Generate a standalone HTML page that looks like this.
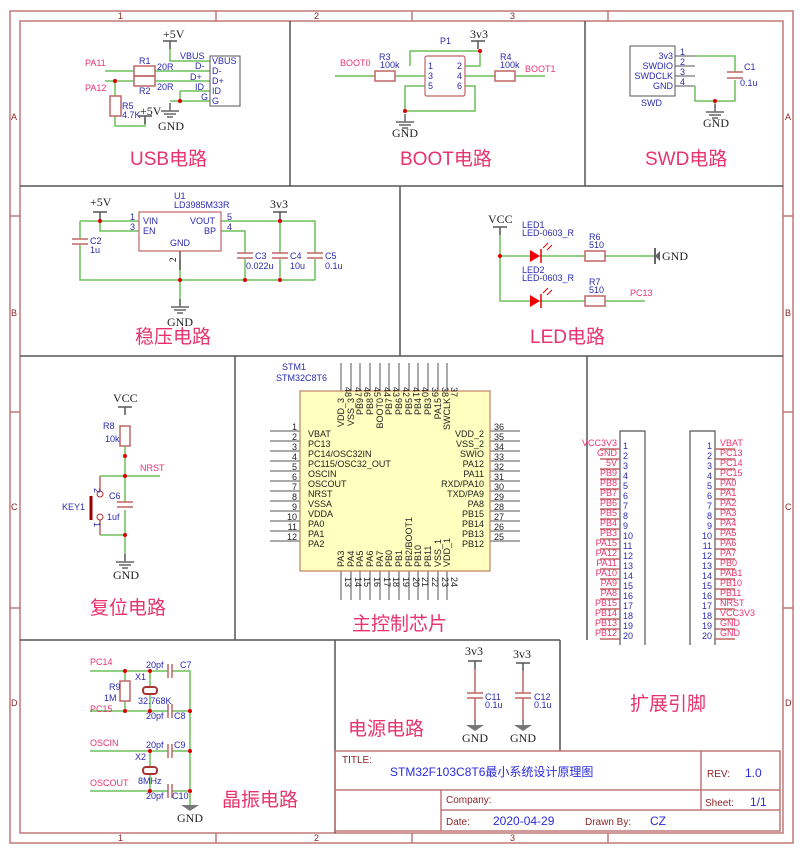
<!DOCTYPE html>
<html><head><meta charset="utf-8"><style>
html,body{margin:0;padding:0;background:#fff}
svg{display:block}
text{font-family:"Liberation Sans","Noto Sans CJK SC",sans-serif}
.s{font-family:"Liberation Serif",serif}
.b{fill:#2a2ab0;font-size:9px}
.p{fill:#e8336d;font-size:9px}
.k{fill:#222;font-size:12px}
.t{fill:#e8336d;font-size:19px}
.w{stroke:#6cbf5c;stroke-width:1.5;fill:none}
.c{stroke:#c06565;stroke-width:1.5;fill:none}
.g{stroke:#555;stroke-width:1.5;fill:none}
.sec{stroke:#555;stroke-width:1.5;fill:none}
.fr{stroke:#c07878;stroke-width:1.5;fill:none}
.j{fill:#d00}
.pin{stroke:#555;stroke-width:1}
.pn{font-family:"Liberation Serif",serif;font-size:9px;fill:#222}
.m{fill:#8b2525;font-size:10px}
</style></head><body>
<svg width="800" height="852" viewBox="0 0 800 852" xmlns="http://www.w3.org/2000/svg">
<defs>
<g id="gnd"><path d="M0,-8V0M-9,0H9M-6,3H6M-3,6H3" stroke="#666" stroke-width="1.5" fill="none"/></g>
<g id="pwr"><path d="M-7,0H7M0,0V8" stroke="#555" stroke-width="1.5" fill="none"/></g>
</defs>
<!-- frame -->
<rect x="10" y="11" width="783" height="832" class="fr"/>
<rect x="20" y="21" width="763" height="812" class="fr"/>
<path class="fr" d="M216,11V21M412,11V21M608,11V21M216,833V843M412,833V843M608,833V843M10,216H20M10,412H20M10,608H20M783,216H793M783,412H793M783,608H793"/>
<g fill="#8b2525" font-size="9">
<text x="118" y="19">1</text><text x="314" y="19">2</text><text x="510" y="19">3</text>
<text x="118" y="841">1</text><text x="314" y="841">2</text><text x="510" y="841">3</text>
<text x="11" y="120">A</text><text x="11" y="316">B</text><text x="11" y="510">C</text><text x="11" y="706">D</text>
<text x="785" y="120">A</text><text x="785" y="316">B</text><text x="785" y="510">C</text><text x="785" y="706">D</text>
</g>
<!-- sections -->
<path class="sec" d="M20,186H783M290,21V186M585,21V186M20,356H783M400,186V356M235,356V640M587,356V640M20,640H560M335,640V833M560,640V751"/>
<!-- title block -->
<g class="fr" stroke="#b86565"><rect x="335" y="751" width="445" height="80"/><path d="M335,790H780M441,790V831M441,810H780M701,751V810"/></g>
<text x="342" y="763" class="m">TITLE:</text>
<text x="390" y="776" fill="#2a2ae0" font-size="12">STM32F103C8T6最小系统设计原理图</text>
<text x="707" y="777" class="m" font-size="11">REV:</text><text x="745" y="777" fill="#2a2ae0" font-size="12">1.0</text>
<text x="446" y="803" class="m" font-size="11">Company:</text>
<text x="705" y="806" class="m" font-size="11">Sheet:</text><text x="750" y="806" fill="#2a2ae0" font-size="12">1/1</text>
<text x="446" y="825" class="m" font-size="11">Date:</text><text x="493" y="825" fill="#2a2ae0" font-size="12">2020-04-29</text>
<text x="585" y="825" class="m" font-size="11">Drawn By:</text><text x="650" y="825" fill="#2a2ae0" font-size="12">CZ</text>

<!-- USB -->
<text x="163" y="38" class="s k">+5V</text>
<use href="#pwr" x="170" y="41"/>
<path class="w" d="M170,49V61H210M105,71H134M155,71H210M105,81H134M155,81H210M180,91H210M180,91V101H210M170,101H180M115,81V96M115,116V126H145V118"/>
<rect x="210" y="56" width="30" height="50" fill="#fff" stroke="#555" stroke-width="1"/>
<rect x="134" y="66" width="21" height="10" class="c"/><rect x="134" y="76" width="21" height="10" class="c"/>
<rect x="110" y="96" width="11" height="20" class="c"/>
<use href="#pwr" x="145" y="116" transform="translate(0,0)"/>
<use href="#gnd" x="170" y="111"/>
<circle cx="115" cy="81" r="2" class="j"/><circle cx="180" cy="101" r="2" class="j"/>
<g class="b"><text x="212" y="64">VBUS</text><text x="212" y="74">D-</text><text x="212" y="84">D+</text><text x="212" y="94">ID</text><text x="212" y="104">G</text>
<text x="180" y="59">VBUS</text><text x="195" y="69">D-</text><text x="190" y="80">D+</text><text x="195" y="90">ID</text><text x="201" y="100">G</text>
<text x="139" y="64">R1</text><text x="139" y="94">R2</text><text x="157" y="70">20R</text><text x="157" y="90">20R</text><text x="122" y="109">R5</text><text x="122" y="118">4.7K</text></g>
<text x="140" y="115" class="s k">+5V</text>
<text x="85" y="66" class="p">PA11</text><text x="85" y="91" class="p">PA12</text>
<text x="158" y="130" class="s k">GND</text>
<text x="130" y="165" class="t">USB电路</text>

<!-- BOOT -->
<text x="340" y="66" class="p">BOOT0</text>
<path class="w" d="M335,76H375M395,76H425M410,66V51H480M480,51V66H465M465,76H495M515,76H545M425,86H405V111M465,86H475V111H405"/>
<rect x="375" y="71" width="20" height="10" class="c"/><rect x="495" y="71" width="20" height="10" class="c"/>
<rect x="425" y="56" width="40" height="40" rx="2" fill="#fff" stroke="#c06565" stroke-width="1.2"/>
<text x="470" y="38" class="s k">3v3</text><use href="#pwr" x="478" y="41"/>
<circle cx="480" cy="51" r="2" class="j"/><circle cx="405" cy="111" r="2" class="j"/>
<use href="#gnd" x="405" y="122"/>
<text x="392" y="137" class="s k">GND</text>
<g class="b"><text x="440" y="44">P1</text><text x="379" y="60">R3</text><text x="380" y="68">100k</text><text x="500" y="60">R4</text><text x="500" y="68">100k</text>
<text x="428" y="69">1</text><text x="428" y="79">3</text><text x="428" y="89">5</text><text x="457" y="69">2</text><text x="457" y="79">4</text><text x="457" y="89">6</text></g>
<text x="525" y="72" class="p">BOOT1</text>
<text x="400" y="165" class="t">BOOT电路</text>

<!-- SWD -->
<rect x="630" y="46" width="45" height="50" fill="#fff" stroke="#555" stroke-width="1"/>
<path class="pin" d="M675,56H695M675,66H695M675,76H695M675,86H695"/>
<path class="w" d="M695,56H735V72M735,80V101H695V86M715,101V108"/>
<path class="c" d="M727,72H743M727,78H743"/>
<circle cx="715" cy="101" r="2" class="j"/>
<use href="#gnd" x="715" y="112"/>
<text x="703" y="127" class="s k">GND</text>
<g class="b" text-anchor="end"><text x="673" y="59">3v3</text><text x="673" y="69">SWDIO</text><text x="673" y="79">SWDCLK</text><text x="673" y="89">GND</text></g>
<g class="b"><text x="680" y="55">1</text><text x="680" y="65">2</text><text x="680" y="75">3</text><text x="680" y="85">4</text>
<text x="641" y="106">SWD</text><text x="744" y="70">C1</text><text x="740" y="86">0.1u</text></g>
<text x="645" y="165" class="t">SWD电路</text>

<!-- Regulator -->
<text x="90" y="206" class="s k">+5V</text><use href="#pwr" x="100" y="212"/>
<path class="w" d="M80,221H140M100,221V231H140M80,221V239M80,245V280H315M220,221H315V253M220,231H245V253M280,221V253M245,259V280M280,259V280M315,259V280M180,260V305"/>
<path class="g" d="M180,251V270"/>
<path class="c" d="M72,239H88M72,244H88M237,253H253M237,258H253M272,253H288M272,258H288M307,253H323M307,258H323"/>
<rect x="139" y="212" width="82" height="39" fill="#fff" stroke="#c06565" stroke-width="1.2"/>
<text x="270" y="208" class="s k">3v3</text><use href="#pwr" x="280" y="212"/>
<circle cx="100" cy="221" r="2" class="j"/><circle cx="280" cy="221" r="2" class="j"/><circle cx="180" cy="280" r="2" class="j"/><circle cx="245" cy="280" r="2" class="j"/><circle cx="280" cy="280" r="2" class="j"/>
<use href="#gnd" x="180" y="307"/>
<text x="167" y="326" class="s k">GND</text>
<g class="b"><text x="174" y="199">U1</text><text x="174" y="208">LD3985M33R</text><text x="143" y="224">VIN</text><text x="143" y="234">EN</text><text x="170" y="246">GND</text><text x="190" y="224">VOUT</text><text x="204" y="234">BP</text>
<text x="130" y="220">1</text><text x="130" y="230">3</text><text x="227" y="220">5</text><text x="227" y="230">4</text>
<text x="90" y="244">C2</text><text x="90" y="253">1u</text><text x="255" y="259">C3</text><text x="246" y="269">0.022u</text><text x="290" y="259">C4</text><text x="290" y="269">10u</text><text x="325" y="259">C5</text><text x="325" y="269">0.1u</text></g>
<text x="176" y="262" transform="rotate(-90 176 262)" font-size="9" class="s">2</text>
<text x="135" y="343" class="t">稳压电路</text>

<!-- LED -->
<text x="488" y="223" class="s k">VCC</text><use href="#pwr" x="500" y="227"/>
<path class="w" d="M500,235V301H530M500,256H530M540,256H585M605,256H655M540,301H585M605,301H645"/>
<path d="M530,250L540,256L530,262Z M530,295L540,301L530,307Z" fill="#e00"/>
<path d="M541,249V263M541,294V308" stroke="#e00" stroke-width="1.5"/>
<path d="M543,248L548,243M547,250L552,245M543,293L548,288M547,295L552,290" stroke="#e00" stroke-width="1"/>
<rect x="585" y="251" width="20" height="10" class="c"/><rect x="585" y="296" width="20" height="10" class="c"/>
<path d="M655,248V264" stroke="#666" stroke-width="2"/><path d="M655,256L660,251V261Z" fill="#666"/>
<circle cx="500" cy="256" r="2" class="j"/>
<text x="662" y="260" class="s k">GND</text>
<g class="b"><text x="522" y="228">LED1</text><text x="522" y="236">LED-0603_R</text><text x="589" y="240">R6</text><text x="589" y="248">510</text>
<text x="522" y="273">LED2</text><text x="522" y="281">LED-0603_R</text><text x="589" y="285">R7</text><text x="589" y="293">510</text></g>
<text x="630" y="296" class="p">PC13</text>
<text x="530" y="343" class="t">LED电路</text>

<!-- Reset -->
<text x="113" y="402" class="s k">VCC</text><use href="#pwr" x="125" y="407"/>
<rect x="120" y="426" width="10" height="20" class="c"/>
<path class="w" d="M125,446V476M100,476H160M125,476V502M125,510V560M100,535H125"/>
<path class="c" d="M100,476V491M100,520V535M117,502H133M117,507H133"/>
<circle cx="100" cy="494" r="3" fill="#fff" stroke="#a33" stroke-width="1"/><circle cx="100" cy="517" r="3" fill="#fff" stroke="#a33" stroke-width="1"/>
<path d="M91,496V520" stroke="#900" stroke-width="3"/>
<circle cx="125" cy="456" r="2" class="j"/><circle cx="125" cy="476" r="2" class="j"/><circle cx="125" cy="535" r="2" class="j"/>
<use href="#gnd" x="125" y="562"/>
<text x="113" y="579" class="s k">GND</text>
<g class="b"><text x="103" y="429">R8</text><text x="105" y="442">10k</text><text x="62" y="510">KEY1</text><text x="109" y="499">C6</text><text x="107" y="520">1uf</text>
<text x="94" y="488" transform="rotate(90 94 488)">2</text><text x="94" y="522" transform="rotate(90 94 522)">1</text></g>
<text x="140" y="471" class="p">NRST</text>
<text x="90" y="614" class="t">复位电路</text>

<!-- MCU -->
<text x="282" y="370" class="b">STM1</text><text x="276" y="381" class="b">STM32C8T6</text>
<g class="pin">
<path d="M270,431H300M270,441H300M270,451H300M270,461H300M270,471H300M270,481H300M270,491H300M270,501H300M270,511H300M270,521H300M270,531H300M270,541H300"/>
<path d="M490,431H520M490,441H520M490,451H520M490,461H520M490,471H520M490,481H520M490,491H520M490,501H520M490,511H520M490,521H520M490,531H520M490,541H520"/>
<path d="M341,363V391M351,363V391M360,363V391M370,363V391M380,363V391M389,363V391M399,363V391M409,363V391M418,363V391M428,363V391M438,363V391M447,363V391"/>
<path d="M341,571V600M351,571V600M360,571V600M370,571V600M380,571V600M389,571V600M399,571V600M409,571V600M418,571V600M428,571V600M438,571V600M447,571V600"/>
</g>
<rect x="300" y="391" width="190" height="180" fill="#ffffbf" stroke="#c08060" stroke-width="1.2"/>
<g class="pn" text-anchor="end">
<text x="297" y="430">1</text><text x="297" y="440">2</text><text x="297" y="450">3</text><text x="297" y="460">4</text><text x="297" y="470">5</text><text x="297" y="480">6</text><text x="297" y="490">7</text><text x="297" y="500">8</text><text x="297" y="510">9</text><text x="297" y="520">10</text><text x="297" y="530">11</text><text x="297" y="540">12</text>
<text x="484" y="437">VDD_2</text><text x="484" y="447">VSS_2</text><text x="484" y="457">SWIO</text><text x="484" y="467">PA12</text><text x="484" y="477">PA11</text><text x="484" y="487">RXD/PA10</text><text x="484" y="497">TXD/PA9</text><text x="484" y="507">PA8</text><text x="484" y="517">PB15</text><text x="484" y="527">PB14</text><text x="484" y="537">PB13</text><text x="484" y="547">PB12</text>
</g>
<g class="pn">
<text x="308" y="437">VBAT</text><text x="308" y="447">PC13</text><text x="308" y="457">PC14/OSC32IN</text><text x="308" y="467">PC115/OSC32_OUT</text><text x="308" y="477">OSCIN</text><text x="308" y="487">OSCOUT</text><text x="308" y="497">NRST</text><text x="308" y="507">VSSA</text><text x="308" y="517">VDDA</text><text x="308" y="527">PA0</text><text x="308" y="537">PA1</text><text x="308" y="547">PA2</text>
<text x="494" y="430">36</text><text x="494" y="440">35</text><text x="494" y="450">34</text><text x="494" y="460">33</text><text x="494" y="470">32</text><text x="494" y="480">31</text><text x="494" y="490">30</text><text x="494" y="500">29</text><text x="494" y="510">28</text><text x="494" y="520">27</text><text x="494" y="530">26</text><text x="494" y="540">25</text>
</g>
<g class="pn" font-size="8">
<text transform="translate(345,387) rotate(90)">48</text><text transform="translate(355,387) rotate(90)">47</text><text transform="translate(364,387) rotate(90)">46</text><text transform="translate(374,387) rotate(90)">45</text><text transform="translate(384,387) rotate(90)">44</text><text transform="translate(393,387) rotate(90)">43</text><text transform="translate(403,387) rotate(90)">42</text><text transform="translate(413,387) rotate(90)">41</text><text transform="translate(422,387) rotate(90)">40</text><text transform="translate(432,387) rotate(90)">39</text><text transform="translate(442,387) rotate(90)">38</text><text transform="translate(451,387) rotate(90)">37</text>
<text transform="translate(345,577) rotate(90)">13</text><text transform="translate(355,577) rotate(90)">14</text><text transform="translate(364,577) rotate(90)">15</text><text transform="translate(374,577) rotate(90)">16</text><text transform="translate(384,577) rotate(90)">17</text><text transform="translate(393,577) rotate(90)">18</text><text transform="translate(403,577) rotate(90)">19</text><text transform="translate(413,577) rotate(90)">20</text><text transform="translate(422,577) rotate(90)">21</text><text transform="translate(432,577) rotate(90)">22</text><text transform="translate(442,577) rotate(90)">23</text><text transform="translate(451,577) rotate(90)">24</text>
</g>
<g class="pn" text-anchor="end">
<text transform="translate(344,398) rotate(-90)">VDD_3</text><text transform="translate(354,398) rotate(-90)">VSS_3</text><text transform="translate(363,398) rotate(-90)">PB9</text><text transform="translate(373,398) rotate(-90)">PB8</text><text transform="translate(383,398) rotate(-90)">BOOT0</text><text transform="translate(392,398) rotate(-90)">PB7</text><text transform="translate(402,398) rotate(-90)">PB6</text><text transform="translate(412,398) rotate(-90)">PB5</text><text transform="translate(421,398) rotate(-90)">PB4</text><text transform="translate(431,398) rotate(-90)">PB3</text><text transform="translate(441,398) rotate(-90)">PA15</text><text transform="translate(450,398) rotate(-90)">SWCLK</text>
</g>
<g class="pn">
<text transform="translate(344,567) rotate(-90)">PA3</text><text transform="translate(354,567) rotate(-90)">PA4</text><text transform="translate(363,567) rotate(-90)">PA5</text><text transform="translate(373,567) rotate(-90)">PA6</text><text transform="translate(383,567) rotate(-90)">PA7</text><text transform="translate(392,567) rotate(-90)">PB0</text><text transform="translate(402,567) rotate(-90)">PB1</text><text transform="translate(412,567) rotate(-90)">PB2/BOOT1</text><text transform="translate(421,567) rotate(-90)">PB10</text><text transform="translate(431,567) rotate(-90)">PB11</text><text transform="translate(441,567) rotate(-90)">VSS_1</text><text transform="translate(450,567) rotate(-90)">VDD_1</text>
</g>
<text x="352" y="630" class="t" font-size="18">主控制芯片</text>

<!-- Expansion -->
<path d="M620,645V431H645V645M690,645V431H715V645" stroke="#555" stroke-width="1.2" fill="none"/>
<g class="c" stroke-width="1.2">
<path d="M600,449H620M600,459H620M600,469H620M600,479H620M600,489H620M600,499H620M600,509H620M600,519H620M600,529H620M600,539H620M600,549H620M600,559H620M600,569H620M600,579H620M600,589H620M600,599H620M600,609H620M600,619H620M600,629H620M600,639H620"/>
<path d="M715,449H735M715,459H735M715,469H735M715,479H735M715,489H735M715,499H735M715,509H735M715,519H735M715,529H735M715,539H735M715,549H735M715,559H735M715,569H735M715,579H735M715,589H735M715,599H735M715,609H735M715,619H735M715,629H735M715,639H735"/>
</g>
<g class="p" text-anchor="end" font-size="9.5">
<text x="617" y="446">VCC3V3</text><text x="617" y="456">GND</text><text x="617" y="466">5V</text><text x="617" y="476">PB9</text><text x="617" y="486">PB8</text><text x="617" y="496">PB7</text><text x="617" y="506">PB6</text><text x="617" y="516">PB5</text><text x="617" y="526">PB4</text><text x="617" y="536">PB3</text><text x="617" y="546">PA15</text><text x="617" y="556">PA12</text><text x="617" y="566">PA11</text><text x="617" y="576">PA10</text><text x="617" y="586">PA9</text><text x="617" y="596">PA8</text><text x="617" y="606">PB15</text><text x="617" y="616">PB14</text><text x="617" y="626">PB13</text><text x="617" y="636">PB12</text>
</g>
<g class="p" font-size="9.5">
<text x="720" y="446">VBAT</text><text x="720" y="456">PC13</text><text x="720" y="466">PC14</text><text x="720" y="476">PC15</text><text x="720" y="486">PA0</text><text x="720" y="496">PA1</text><text x="720" y="506">PA2</text><text x="720" y="516">PA3</text><text x="720" y="526">PA4</text><text x="720" y="536">PA5</text><text x="720" y="546">PA6</text><text x="720" y="556">PA7</text><text x="720" y="566">PB0</text><text x="720" y="576">PAB1</text><text x="720" y="586">PB10</text><text x="720" y="596">PB11</text><text x="720" y="606">NRST</text><text x="720" y="616">VCC3V3</text><text x="720" y="626">GND</text><text x="720" y="636">GND</text>
</g>
<g class="b" font-size="9.5">
<text x="623" y="449">1</text><text x="623" y="459">2</text><text x="623" y="469">3</text><text x="623" y="479">4</text><text x="623" y="489">5</text><text x="623" y="499">6</text><text x="623" y="509">7</text><text x="623" y="519">8</text><text x="623" y="529">9</text><text x="623" y="539">10</text><text x="623" y="549">11</text><text x="623" y="559">12</text><text x="623" y="569">13</text><text x="623" y="579">14</text><text x="623" y="589">15</text><text x="623" y="599">16</text><text x="623" y="609">17</text><text x="623" y="619">18</text><text x="623" y="629">19</text><text x="623" y="639">20</text>
</g>
<g class="b" font-size="9.5" text-anchor="end">
<text x="712" y="449">1</text><text x="712" y="459">2</text><text x="712" y="469">3</text><text x="712" y="479">4</text><text x="712" y="489">5</text><text x="712" y="499">6</text><text x="712" y="509">7</text><text x="712" y="519">8</text><text x="712" y="529">9</text><text x="712" y="539">10</text><text x="712" y="549">11</text><text x="712" y="559">12</text><text x="712" y="569">13</text><text x="712" y="579">14</text><text x="712" y="589">15</text><text x="712" y="599">16</text><text x="712" y="609">17</text><text x="712" y="619">18</text><text x="712" y="629">19</text><text x="712" y="639">20</text>
</g>
<text x="630" y="710" class="t" font-size="18">扩展引脚</text>

<!-- Crystal -->
<path class="w" d="M90,671H168M172,671H190V807M90,711H168M172,711H190M90,751H168M172,751H190M90,791H168M172,791H190M125,671V681M125,701V711M150,671V688M150,694V711M150,751V766M150,774V791"/>
<path class="c" d="M168,664V678M172,664V678M168,704V718M172,704V718M168,744V758M172,744V758M168,784V798M172,784V798"/>
<rect x="120" y="681" width="10" height="20" class="c"/>
<rect x="143" y="687" width="14" height="7" rx="3" fill="none" stroke="#a33" stroke-width="2"/>
<rect x="143" y="767" width="14" height="7" rx="3" fill="none" stroke="#a33" stroke-width="2"/>
<g class="j"><circle cx="125" cy="671" r="2"/><circle cx="150" cy="671" r="2"/><circle cx="125" cy="711" r="2"/><circle cx="150" cy="711" r="2"/><circle cx="190" cy="711" r="2"/><circle cx="150" cy="751" r="2"/><circle cx="190" cy="751" r="2"/><circle cx="150" cy="791" r="2"/><circle cx="190" cy="791" r="2"/></g>
<path d="M181,805H199L190,811Z" fill="#777"/>
<text x="177" y="822" class="s k">GND</text>
<g class="p"><text x="90" y="665">PC14</text><text x="90" y="712">PC15</text><text x="90" y="746">OSCIN</text><text x="90" y="786">OSCOUT</text></g>
<g class="b"><text x="146" y="668">20pf</text><text x="180" y="668">C7</text><text x="135" y="680">X1</text><text x="109" y="690">R9</text><text x="104" y="701">1M</text><text x="138" y="704">32.768K</text><text x="146" y="719">20pf</text><text x="174" y="719">C8</text>
<text x="146" y="748">20pf</text><text x="174" y="748">C9</text><text x="135" y="760">X2</text><text x="138" y="784">8MHz</text><text x="146" y="799">20pf</text><text x="172" y="799">C10</text></g>
<text x="222" y="806" class="t" font-size="18">晶振电路</text>

<!-- Power -->
<text x="465" y="655" class="s k">3v3</text><use href="#pwr" x="475" y="661"/>
<text x="513" y="658" class="s k">3v3</text><use href="#pwr" x="523" y="663"/>
<path class="c" d="M475,669V693M475,698V722M467,693H483M467,698H483M523,671V693M523,698V722M515,693H531M515,698H531"/>
<path d="M466,725H484L475,731Z M514,725H532L523,731Z" fill="#777"/>
<path d="M475,720V725M523,720V725" stroke="#777" stroke-width="1.5"/>
<text x="462" y="742" class="s k">GND</text><text x="510" y="742" class="s k">GND</text>
<g class="b" font-size="8"><text x="485" y="700">C11</text><text x="485" y="708">0.1u</text><text x="534" y="700">C12</text><text x="534" y="708">0.1u</text></g>
<text x="348" y="735" class="t" font-size="18">电源电路</text>
</svg>
</body></html>
